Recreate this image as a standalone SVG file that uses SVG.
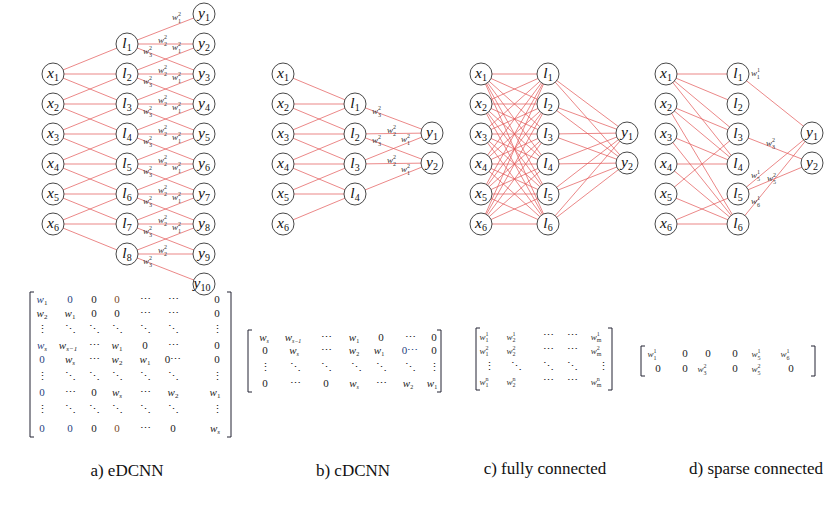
<svg xmlns="http://www.w3.org/2000/svg" width="831" height="508" viewBox="0 0 831 508">
<style>
circle{fill:#fff;stroke:#333;stroke-width:0.9}
.e{fill:none;stroke:#e25555;stroke-width:0.7}
.n{font-family:"Liberation Serif",serif;font-style:italic;font-size:15.5px;fill:#111;text-anchor:middle}
.n tspan{font-size:10px;font-style:normal}
.w{font-family:"Liberation Serif",serif;font-style:italic;font-size:9px;fill:#333}
.w tspan{font-size:6px;font-style:normal}
.m{font-family:"Liberation Serif",serif;font-size:11px;fill:#222;text-anchor:middle}
.m .i{font-style:italic}
.br{fill:none;stroke:#223;stroke-width:1}
.cap{font-family:"Liberation Serif",serif;font-size:17px;fill:#111;text-anchor:middle}
</style>
<g id="connectors">
<path class="e" d="M53,74 l74,-30 M53,74 h74 M53,74 l74,30 M53,104 l74,-30 M53,104 h74 M53,104 l74,30 M53,134 l74,-30 M53,134 h74 M53,134 l74,30 M53,164 l74,-30 M53,164 h74 M53,164 l74,30 M53,194 l74,-30 M53,194 h74 M53,194 l74,30 M53,224 l74,-30 M53,224 h74 M53,224 l74,30"/>
<path class="e" d="M127,44 l77,-30 M127,44 h77 M127,44 l77,30 M127,74 l77,-30 M127,74 h77 M127,74 l77,30 M127,104 l77,-30 M127,104 h77 M127,104 l77,30 M127,134 l77,-30 M127,134 h77 M127,134 l77,30 M127,164 l77,-30 M127,164 h77 M127,164 l77,30 M127,194 l77,-30 M127,194 h77 M127,194 l77,30 M127,224 l77,-30 M127,224 h77 M127,224 l77,30 M127,254 l77,-30 M127,254 h77 M127,254 l77,30"/>
<path class="e" d="M355,104 l-72,-30 M355,104 h-72 M355,104 l-72,30 M355,134 l-72,-30 M355,134 h-72 M355,134 l-72,30 M355,164 l-72,-30 M355,164 h-72 M355,164 l-72,30 M355,194 l-72,-30 M355,194 h-72 M355,194 l-72,30 M355,104 L432,133 M355,134 L432,133 M355,134 L432,163 M355,164 L432,133 M355,164 L432,163 M355,194 L432,163"/>
<path class="e" d="M481,74 L548,74 M481,74 L548,104 M481,74 L548,134 M481,74 L548,164 M481,74 L548,194 M481,74 L548,224 M481,104 L548,74 M481,104 L548,104 M481,104 L548,134 M481,104 L548,164 M481,104 L548,194 M481,104 L548,224 M481,134 L548,74 M481,134 L548,104 M481,134 L548,134 M481,134 L548,164 M481,134 L548,194 M481,134 L548,224 M481,164 L548,74 M481,164 L548,104 M481,164 L548,134 M481,164 L548,164 M481,164 L548,194 M481,164 L548,224 M481,194 L548,74 M481,194 L548,104 M481,194 L548,134 M481,194 L548,164 M481,194 L548,194 M481,194 L548,224 M481,224 L548,74 M481,224 L548,104 M481,224 L548,134 M481,224 L548,164 M481,224 L548,194 M481,224 L548,224 M548,74 L627,133 M548,104 L627,133 M548,134 L627,133 M548,164 L627,133 M548,194 L627,133 M548,224 L627,133 M548,74 L627,163 M548,104 L627,163 M548,134 L627,163 M548,164 L627,163 M548,194 L627,163 M548,224 L627,163"/>
<path class="e" d="M666,74 L738,74 M666,74 L738,104 M666,74 L738,134 M666,74 L738,164 M666,104 L738,134 M666,104 L738,164 M666,104 L738,224 M666,134 L738,164 M666,134 L738,224 M666,164 L738,164 M666,164 L738,224 M666,194 L738,134 M666,194 L738,224 M666,224 L738,194 M666,224 L738,224 M738,74 L812,133 M738,134 L812,163 M738,194 L812,133 M738,194 L812,163 M738,224 L812,133"/>
</g>
<g id="labels-a">
<text class="w" x="172" y="20">w<tspan dy="-4">2</tspan><tspan dx="-3" dy="7">1</tspan></text>
<text class="w" x="172" y="50">w<tspan dy="-4">2</tspan><tspan dx="-3" dy="7">1</tspan></text>
<text class="w" x="172" y="80">w<tspan dy="-4">2</tspan><tspan dx="-3" dy="7">1</tspan></text>
<text class="w" x="172" y="110">w<tspan dy="-4">2</tspan><tspan dx="-3" dy="7">1</tspan></text>
<text class="w" x="172" y="140">w<tspan dy="-4">2</tspan><tspan dx="-3" dy="7">1</tspan></text>
<text class="w" x="172" y="170">w<tspan dy="-4">2</tspan><tspan dx="-3" dy="7">1</tspan></text>
<text class="w" x="172" y="200">w<tspan dy="-4">2</tspan><tspan dx="-3" dy="7">1</tspan></text>
<text class="w" x="172" y="230">w<tspan dy="-4">2</tspan><tspan dx="-3" dy="7">1</tspan></text>
<text class="w" x="158" y="43">w<tspan dy="-4">2</tspan><tspan dx="-3" dy="7">2</tspan></text>
<text class="w" x="158" y="73">w<tspan dy="-4">2</tspan><tspan dx="-3" dy="7">2</tspan></text>
<text class="w" x="158" y="103">w<tspan dy="-4">2</tspan><tspan dx="-3" dy="7">2</tspan></text>
<text class="w" x="158" y="133">w<tspan dy="-4">2</tspan><tspan dx="-3" dy="7">2</tspan></text>
<text class="w" x="158" y="163">w<tspan dy="-4">2</tspan><tspan dx="-3" dy="7">2</tspan></text>
<text class="w" x="158" y="193">w<tspan dy="-4">2</tspan><tspan dx="-3" dy="7">2</tspan></text>
<text class="w" x="158" y="223">w<tspan dy="-4">2</tspan><tspan dx="-3" dy="7">2</tspan></text>
<text class="w" x="158" y="253">w<tspan dy="-4">2</tspan><tspan dx="-3" dy="7">2</tspan></text>
<text class="w" x="143" y="54">w<tspan dy="-4">2</tspan><tspan dx="-3" dy="7">3</tspan></text>
<text class="w" x="143" y="84">w<tspan dy="-4">2</tspan><tspan dx="-3" dy="7">3</tspan></text>
<text class="w" x="143" y="114">w<tspan dy="-4">2</tspan><tspan dx="-3" dy="7">3</tspan></text>
<text class="w" x="143" y="144">w<tspan dy="-4">2</tspan><tspan dx="-3" dy="7">3</tspan></text>
<text class="w" x="143" y="174">w<tspan dy="-4">2</tspan><tspan dx="-3" dy="7">3</tspan></text>
<text class="w" x="143" y="204">w<tspan dy="-4">2</tspan><tspan dx="-3" dy="7">3</tspan></text>
<text class="w" x="143" y="234">w<tspan dy="-4">2</tspan><tspan dx="-3" dy="7">3</tspan></text>
<text class="w" x="143" y="264">w<tspan dy="-4">2</tspan><tspan dx="-3" dy="7">3</tspan></text>
</g>
<g id="labels-b">
<text class="w" x="372" y="114">w<tspan dy="-4">2</tspan><tspan dx="-3" dy="7">3</tspan></text>
<text class="w" x="387" y="133">w<tspan dy="-4">2</tspan><tspan dx="-3" dy="7">2</tspan></text>
<text class="w" x="372" y="143">w<tspan dy="-4">2</tspan><tspan dx="-3" dy="7">3</tspan></text>
<text class="w" x="401" y="142">w<tspan dy="-4">2</tspan><tspan dx="-3" dy="7">1</tspan></text>
<text class="w" x="387" y="163">w<tspan dy="-4">2</tspan><tspan dx="-3" dy="7">2</tspan></text>
<text class="w" x="401" y="172">w<tspan dy="-4">2</tspan><tspan dx="-3" dy="7">1</tspan></text>
</g>
<g id="labels-d">
<text class="w" x="751" y="76">w<tspan dy="-4">1</tspan><tspan dx="-3" dy="7">1</tspan></text>
<text class="w" x="766" y="146">w<tspan dy="-4">2</tspan><tspan dx="-3" dy="7">3</tspan></text>
<text class="w" x="751" y="178">w<tspan dy="-4">1</tspan><tspan dx="-3" dy="7">5</tspan></text>
<text class="w" x="767" y="181">w<tspan dy="-4">2</tspan><tspan dx="-3" dy="7">5</tspan></text>
<text class="w" x="751" y="204">w<tspan dy="-4">1</tspan><tspan dx="-3" dy="7">6</tspan></text>
</g>
<g id="a-x1"><circle cx="53" cy="74" r="11"/><text class="n" x="53" y="78">x<tspan dy="3">1</tspan></text></g>
<g id="a-x2"><circle cx="53" cy="104" r="11"/><text class="n" x="53" y="108">x<tspan dy="3">2</tspan></text></g>
<g id="a-x3"><circle cx="53" cy="134" r="11"/><text class="n" x="53" y="138">x<tspan dy="3">3</tspan></text></g>
<g id="a-x4"><circle cx="53" cy="164" r="11"/><text class="n" x="53" y="168">x<tspan dy="3">4</tspan></text></g>
<g id="a-x5"><circle cx="53" cy="194" r="11"/><text class="n" x="53" y="198">x<tspan dy="3">5</tspan></text></g>
<g id="a-x6"><circle cx="53" cy="224" r="11"/><text class="n" x="53" y="228">x<tspan dy="3">6</tspan></text></g>
<g id="a-l1"><circle cx="127" cy="44" r="11"/><text class="n" x="127" y="48">l<tspan dy="3">1</tspan></text></g>
<g id="a-l2"><circle cx="127" cy="74" r="11"/><text class="n" x="127" y="78">l<tspan dy="3">2</tspan></text></g>
<g id="a-l3"><circle cx="127" cy="104" r="11"/><text class="n" x="127" y="108">l<tspan dy="3">3</tspan></text></g>
<g id="a-l4"><circle cx="127" cy="134" r="11"/><text class="n" x="127" y="138">l<tspan dy="3">4</tspan></text></g>
<g id="a-l5"><circle cx="127" cy="164" r="11"/><text class="n" x="127" y="168">l<tspan dy="3">5</tspan></text></g>
<g id="a-l6"><circle cx="127" cy="194" r="11"/><text class="n" x="127" y="198">l<tspan dy="3">6</tspan></text></g>
<g id="a-l7"><circle cx="127" cy="224" r="11"/><text class="n" x="127" y="228">l<tspan dy="3">7</tspan></text></g>
<g id="a-l8"><circle cx="127" cy="254" r="11"/><text class="n" x="127" y="258">l<tspan dy="3">8</tspan></text></g>
<g id="a-y1"><circle cx="204" cy="14" r="11"/><text class="n" x="204" y="18">y<tspan dy="3">1</tspan></text></g>
<g id="a-y2"><circle cx="204" cy="44" r="11"/><text class="n" x="204" y="48">y<tspan dy="3">2</tspan></text></g>
<g id="a-y3"><circle cx="204" cy="74" r="11"/><text class="n" x="204" y="78">y<tspan dy="3">3</tspan></text></g>
<g id="a-y4"><circle cx="204" cy="104" r="11"/><text class="n" x="204" y="108">y<tspan dy="3">4</tspan></text></g>
<g id="a-y5"><circle cx="204" cy="134" r="11"/><text class="n" x="204" y="138">y<tspan dy="3">5</tspan></text></g>
<g id="a-y6"><circle cx="204" cy="164" r="11"/><text class="n" x="204" y="168">y<tspan dy="3">6</tspan></text></g>
<g id="a-y7"><circle cx="204" cy="194" r="11"/><text class="n" x="204" y="198">y<tspan dy="3">7</tspan></text></g>
<g id="a-y8"><circle cx="204" cy="224" r="11"/><text class="n" x="204" y="228">y<tspan dy="3">8</tspan></text></g>
<g id="a-y9"><circle cx="204" cy="254" r="11"/><text class="n" x="204" y="258">y<tspan dy="3">9</tspan></text></g>
<g id="a-y10"><circle cx="204" cy="284" r="11"/><text class="n" x="202" y="288">y<tspan dy="3">10</tspan></text></g>
<g id="b-x1"><circle cx="283" cy="74" r="11"/><text class="n" x="283" y="78">x<tspan dy="3">1</tspan></text></g>
<g id="b-x2"><circle cx="283" cy="104" r="11"/><text class="n" x="283" y="108">x<tspan dy="3">2</tspan></text></g>
<g id="b-x3"><circle cx="283" cy="134" r="11"/><text class="n" x="283" y="138">x<tspan dy="3">3</tspan></text></g>
<g id="b-x4"><circle cx="283" cy="164" r="11"/><text class="n" x="283" y="168">x<tspan dy="3">4</tspan></text></g>
<g id="b-x5"><circle cx="283" cy="194" r="11"/><text class="n" x="283" y="198">x<tspan dy="3">5</tspan></text></g>
<g id="b-x6"><circle cx="283" cy="224" r="11"/><text class="n" x="283" y="228">x<tspan dy="3">6</tspan></text></g>
<g id="b-l1"><circle cx="355" cy="104" r="11"/><text class="n" x="355" y="108">l<tspan dy="3">1</tspan></text></g>
<g id="b-l2"><circle cx="355" cy="134" r="11"/><text class="n" x="355" y="138">l<tspan dy="3">2</tspan></text></g>
<g id="b-l3"><circle cx="355" cy="164" r="11"/><text class="n" x="355" y="168">l<tspan dy="3">3</tspan></text></g>
<g id="b-l4"><circle cx="355" cy="194" r="11"/><text class="n" x="355" y="198">l<tspan dy="3">4</tspan></text></g>
<g id="b-y1"><circle cx="432" cy="133" r="11"/><text class="n" x="432" y="137">y<tspan dy="3">1</tspan></text></g>
<g id="b-y2"><circle cx="432" cy="163" r="11"/><text class="n" x="432" y="167">y<tspan dy="3">2</tspan></text></g>
<g id="c-x1"><circle cx="481" cy="74" r="11"/><text class="n" x="481" y="78">x<tspan dy="3">1</tspan></text></g>
<g id="c-x2"><circle cx="481" cy="104" r="11"/><text class="n" x="481" y="108">x<tspan dy="3">2</tspan></text></g>
<g id="c-x3"><circle cx="481" cy="134" r="11"/><text class="n" x="481" y="138">x<tspan dy="3">3</tspan></text></g>
<g id="c-x4"><circle cx="481" cy="164" r="11"/><text class="n" x="481" y="168">x<tspan dy="3">4</tspan></text></g>
<g id="c-x5"><circle cx="481" cy="194" r="11"/><text class="n" x="481" y="198">x<tspan dy="3">5</tspan></text></g>
<g id="c-x6"><circle cx="481" cy="224" r="11"/><text class="n" x="481" y="228">x<tspan dy="3">6</tspan></text></g>
<g id="c-l1"><circle cx="548" cy="74" r="11"/><text class="n" x="548" y="78">l<tspan dy="3">1</tspan></text></g>
<g id="c-l2"><circle cx="548" cy="104" r="11"/><text class="n" x="548" y="108">l<tspan dy="3">2</tspan></text></g>
<g id="c-l3"><circle cx="548" cy="134" r="11"/><text class="n" x="548" y="138">l<tspan dy="3">3</tspan></text></g>
<g id="c-l4"><circle cx="548" cy="164" r="11"/><text class="n" x="548" y="168">l<tspan dy="3">4</tspan></text></g>
<g id="c-l5"><circle cx="548" cy="194" r="11"/><text class="n" x="548" y="198">l<tspan dy="3">5</tspan></text></g>
<g id="c-l6"><circle cx="548" cy="224" r="11"/><text class="n" x="548" y="228">l<tspan dy="3">6</tspan></text></g>
<g id="c-y1"><circle cx="627" cy="133" r="11"/><text class="n" x="627" y="137">y<tspan dy="3">1</tspan></text></g>
<g id="c-y2"><circle cx="627" cy="163" r="11"/><text class="n" x="627" y="167">y<tspan dy="3">2</tspan></text></g>
<g id="d-x1"><circle cx="666" cy="74" r="11"/><text class="n" x="666" y="78">x<tspan dy="3">1</tspan></text></g>
<g id="d-x2"><circle cx="666" cy="104" r="11"/><text class="n" x="666" y="108">x<tspan dy="3">2</tspan></text></g>
<g id="d-x3"><circle cx="666" cy="134" r="11"/><text class="n" x="666" y="138">x<tspan dy="3">3</tspan></text></g>
<g id="d-x4"><circle cx="666" cy="164" r="11"/><text class="n" x="666" y="168">x<tspan dy="3">4</tspan></text></g>
<g id="d-x5"><circle cx="666" cy="194" r="11"/><text class="n" x="666" y="198">x<tspan dy="3">5</tspan></text></g>
<g id="d-x6"><circle cx="666" cy="224" r="11"/><text class="n" x="666" y="228">x<tspan dy="3">6</tspan></text></g>
<g id="d-l1"><circle cx="738" cy="74" r="11"/><text class="n" x="738" y="78">l<tspan dy="3">1</tspan></text></g>
<g id="d-l2"><circle cx="738" cy="104" r="11"/><text class="n" x="738" y="108">l<tspan dy="3">2</tspan></text></g>
<g id="d-l3"><circle cx="738" cy="134" r="11"/><text class="n" x="738" y="138">l<tspan dy="3">3</tspan></text></g>
<g id="d-l4"><circle cx="738" cy="164" r="11"/><text class="n" x="738" y="168">l<tspan dy="3">4</tspan></text></g>
<g id="d-l5"><circle cx="738" cy="194" r="11"/><text class="n" x="738" y="198">l<tspan dy="3">5</tspan></text></g>
<g id="d-l6"><circle cx="738" cy="224" r="11"/><text class="n" x="738" y="228">l<tspan dy="3">6</tspan></text></g>
<g id="d-y1"><circle cx="812" cy="133" r="11"/><text class="n" x="812" y="137">y<tspan dy="3">1</tspan></text></g>
<g id="d-y2"><circle cx="812" cy="163" r="11"/><text class="n" x="812" y="167">y<tspan dy="3">2</tspan></text></g>
<g id="matrix-a" class="m">
<path class="br" d="M34,292 h-4 v145 h4" stroke="#2a4a8a"/><path class="br" d="M227,292 h4 v145 h-4" stroke="#2a4a8a"/>
<text y="303"><tspan x="42" class="i" fill="#1f3f80">w</tspan><tspan font-size="7" dy="2">1</tspan></text><text x="70" y="303" fill="#1f3f80">0</text><text x="94" y="303">0</text><text x="117" y="303" fill="#7a4a1a">0</text><text x="145" y="303">⋯</text><text x="173" y="303">⋯</text><text x="217" y="303">0</text>
<text y="317"><tspan x="42" class="i">w</tspan><tspan font-size="7" dy="2">2</tspan></text><text y="317"><tspan x="70" class="i">w</tspan><tspan font-size="7" dy="2">1</tspan></text><text x="94" y="317">0</text><text x="117" y="317">0</text><text x="145" y="317">⋯</text><text x="173" y="317">⋯</text><text x="217" y="317">0</text>
<text x="42" y="333">⋮</text><text x="70" y="333">⋱</text><text x="94" y="333">⋱</text><text x="117" y="333">⋱</text><text x="145" y="333">⋱</text><text x="173" y="333">⋱</text><text x="217" y="333">⋮</text>
<text y="349"><tspan x="42" class="i" fill="#1f3f80">w</tspan><tspan font-size="7" dy="2" class="i">s</tspan></text><text y="349"><tspan x="68" class="i">w</tspan><tspan font-size="7" dy="2" class="i">s−1</tspan></text><text x="94" y="349">⋯</text><text y="349"><tspan x="117" class="i">w</tspan><tspan font-size="7" dy="2">1</tspan></text><text x="145" y="349">0</text><text x="173" y="349">⋯</text><text x="217" y="349">0</text>
<text x="42" y="363" fill="#1f3f80">0</text><text y="363"><tspan x="70" class="i">w</tspan><tspan font-size="7" dy="2" class="i">s</tspan></text><text x="94" y="363">⋯</text><text y="363"><tspan x="117" class="i">w</tspan><tspan font-size="7" dy="2">2</tspan></text><text y="363"><tspan x="145" class="i">w</tspan><tspan font-size="7" dy="2">1</tspan></text><text x="173" y="363">0⋯</text><text x="217" y="363">0</text>
<text x="42" y="380">⋮</text><text x="70" y="380">⋱</text><text x="94" y="380">⋱</text><text x="117" y="380">⋱</text><text x="145" y="380">⋱</text><text x="173" y="380">⋱</text><text x="217" y="380">⋮</text>
<text x="42" y="396" fill="#1f3f80">0</text><text x="70" y="396">⋯</text><text x="94" y="396">0</text><text y="396"><tspan x="117" class="i">w</tspan><tspan font-size="7" dy="2" class="i">s</tspan></text><text x="145" y="396">⋯</text><text y="396"><tspan x="173" class="i">w</tspan><tspan font-size="7" dy="2">2</tspan></text><text y="396"><tspan x="215" class="i">w</tspan><tspan font-size="7" dy="2">1</tspan></text>
<text x="42" y="413">⋮</text><text x="70" y="413">⋱</text><text x="94" y="413">⋱</text><text x="117" y="413">⋱</text><text x="145" y="413">⋱</text><text x="173" y="413">⋱</text><text x="217" y="413">⋮</text>
<text x="42" y="432" fill="#1f3f80">0</text><text x="70" y="432" fill="#1f3f80">0</text><text x="94" y="432">0</text><text x="117" y="432" fill="#7a4a1a">0</text><text x="145" y="432">⋯</text><text x="173" y="432">0</text><text y="432"><tspan x="215" class="i">w</tspan><tspan font-size="7" dy="2" class="i">s</tspan></text>
</g>
<g id="matrix-b" class="m" font-size="10">
<path class="br" d="M252,330 h-4 v62 h4" stroke="#8a5a2a"/><path class="br" d="M437,330 h4 v62 h-4"/>
<text y="341"><tspan x="264" class="i">w</tspan><tspan font-size="6" dy="2" class="i">s</tspan></text><text y="341"><tspan x="293" class="i">w</tspan><tspan font-size="6" dy="2" class="i">s−1</tspan></text><text x="326" y="341">⋯</text><text y="341"><tspan x="354" class="i">w</tspan><tspan font-size="6" dy="2">1</tspan></text><text x="381" y="341">0</text><text x="410" y="341">⋯</text><text x="434" y="341">0</text>
<text x="265" y="354">0</text><text y="354"><tspan x="294" class="i">w</tspan><tspan font-size="6" dy="2" class="i">s</tspan></text><text x="326" y="354">⋯</text><text y="354"><tspan x="354" class="i">w</tspan><tspan font-size="6" dy="2">2</tspan></text><text y="354"><tspan x="379" class="i">w</tspan><tspan font-size="6" dy="2">1</tspan></text><text x="410" y="354" fill="#1f3f80">0⋯</text><text x="434" y="354">0</text>
<text x="265" y="371">⋮</text><text x="295" y="371">⋱</text><text x="326" y="371">⋱</text><text x="356" y="371">⋱</text><text x="381" y="371">⋱</text><text x="410" y="371">⋱</text><text x="434" y="371">⋮</text>
<text x="265" y="387">0</text><text x="295" y="387">⋯</text><text x="326" y="387">0</text><text y="387"><tspan x="354" class="i">w</tspan><tspan font-size="6" dy="2" class="i">s</tspan></text><text x="381" y="387">⋯</text><text y="387"><tspan x="408" class="i">w</tspan><tspan font-size="6" dy="2">2</tspan></text><text y="387"><tspan x="432" class="i">w</tspan><tspan font-size="6" dy="2">1</tspan></text>
</g>
<g id="matrix-c" class="m" font-size="9">
<path class="br" d="M480,328 h-4 v62 h4" stroke="#2a4a8a"/><path class="br" d="M608,328 h4 v62 h-4" stroke="#2a4a8a"/>
<text class="w" x="484" y="340">w<tspan dy="-4">1</tspan><tspan dx="-3" dy="6">1</tspan></text><text class="w" x="511" y="340" fill="#1f3f80">w<tspan dy="-4">1</tspan><tspan dx="-3" dy="6">2</tspan></text><text x="548" y="339">⋯</text><text x="572" y="339">⋯</text><text class="w" x="596" y="340">w<tspan dy="-4">1</tspan><tspan dx="-3" dy="6">m</tspan></text>
<text class="w" x="484" y="354">w<tspan dy="-4">2</tspan><tspan dx="-3" dy="6">1</tspan></text><text class="w" x="511" y="354">w<tspan dy="-4">2</tspan><tspan dx="-3" dy="6">2</tspan></text><text x="548" y="353">⋯</text><text x="572" y="353">⋯</text><text class="w" x="596" y="354">w<tspan dy="-4">2</tspan><tspan dx="-3" dy="6">m</tspan></text>
<text x="489" y="370">⋮</text><text x="516" y="370">⋱</text><text x="548" y="370">⋱</text><text x="572" y="370">⋱</text><text x="603" y="370">⋮</text>
<text class="w" x="484" y="385">w<tspan dy="-4">n</tspan><tspan dx="-3" dy="6">1</tspan></text><text class="w" x="511" y="385">w<tspan dy="-4">n</tspan><tspan dx="-3" dy="6">2</tspan></text><text x="548" y="384">⋯</text><text x="572" y="384">⋯</text><text class="w" x="596" y="385">w<tspan dy="-4">n</tspan><tspan dx="-3" dy="6">m</tspan></text>
</g>
<g id="matrix-d" class="m">
<path class="br" d="M645,346 h-4 v30 h4"/><path class="br" d="M811,346 h4 v30 h-4" stroke="#8a5a2a"/>
<text class="w" x="652" y="357" font-size="11" fill="#1f3f80">w<tspan dy="-4">1</tspan><tspan dx="-3" dy="7">1</tspan></text><text x="685" y="357">0</text><text x="708" y="357">0</text><text x="735" y="357">0</text><text class="w" x="756" y="357" font-size="11">w<tspan dy="-4">1</tspan><tspan dx="-3" dy="7">5</tspan></text><text class="w" x="785" y="357" font-size="11">w<tspan dy="-4">1</tspan><tspan dx="-3" dy="7">6</tspan></text>
<text x="658" y="372">0</text><text x="685" y="372">0</text><text class="w" x="702" y="372" font-size="11">w<tspan dy="-4">2</tspan><tspan dx="-3" dy="7">3</tspan></text><text x="735" y="372">0</text><text class="w" x="756" y="372" font-size="11">w<tspan dy="-4">2</tspan><tspan dx="-3" dy="7">5</tspan></text><text x="791" y="372">0</text>
</g>
<g id="captions">
<text class="cap" x="127" y="476">a) eDCNN</text>
<text class="cap" x="353" y="476">b) cDCNN</text>
<text class="cap" x="545" y="474">c) fully connected</text>
<text class="cap" x="756" y="474">d) sparse connected</text>
</g>
</svg>
